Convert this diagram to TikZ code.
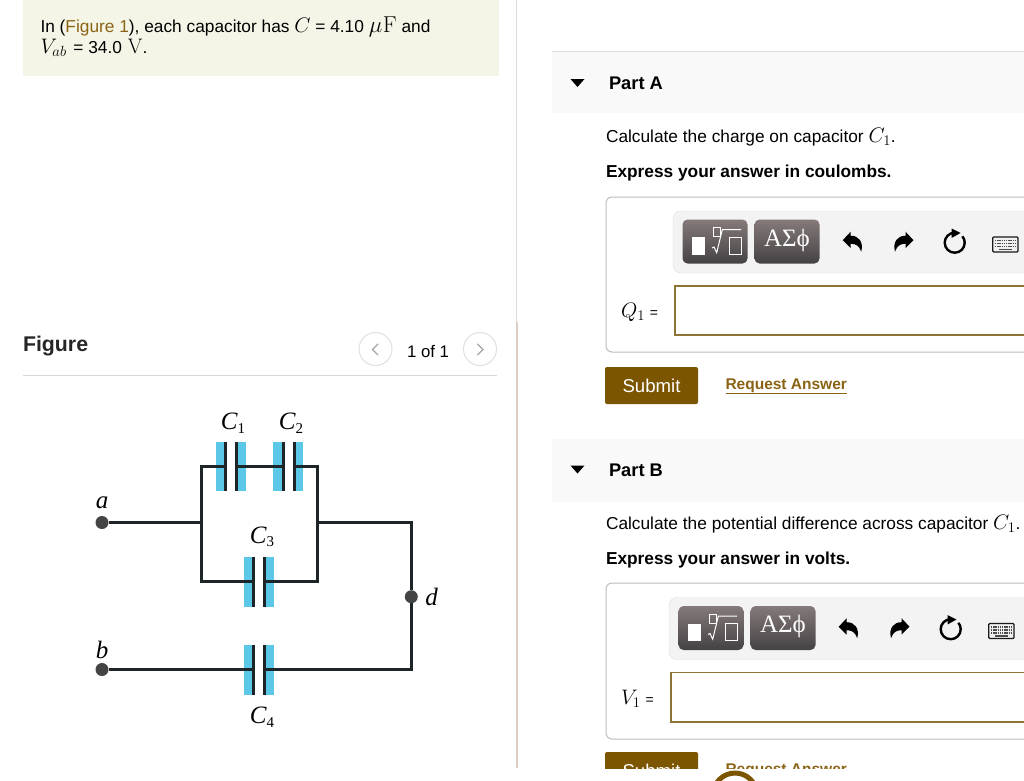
\RequirePackage{fix-cm}
\documentclass[tikz,border=0pt]{standalone}
\usepackage[no-math]{fontspec}
\setmainfont{Liberation Sans}
\newfontfamily\tmsfont{Liberation Serif}
\usetikzlibrary{calc}
\definecolor{panelbg}{HTML}{F5F5E7}
\definecolor{brownb}{HTML}{7C5500}
\definecolor{linkb}{HTML}{8A6414}
\definecolor{capblue}{HTML}{5CC8E8}
\definecolor{wirec}{HTML}{1E2529}
\definecolor{termc}{HTML}{444444}
\definecolor{inputb}{HTML}{8E7536}
\definecolor{toolbg}{HTML}{F3F3F3}
\definecolor{toolb}{HTML}{DEDEDE}
\definecolor{boxb}{HTML}{BDBDBD}
\definecolor{hdrbg}{HTML}{F9F9F9}
\definecolor{gtop}{HTML}{857A7A}
\definecolor{gbot}{HTML}{454243}
\definecolor{divtan}{HTML}{DACFC2}
\newcommand{\tx}[1]{\fontsize{#1}{#1}\selectfont}
\newcommand{\mth}[1]{{\tx{21}$#1$}}
\newcommand{\capname}[1]{{\tmsfont\tx{25}\itshape C}\raisebox{-3.5pt}{\tmsfont\tx{15}#1}}
\tikzset{
  x=1pt,y=-1pt,
  txt/.style={anchor=base west,inner sep=0pt,outer sep=0pt,font=\tx{17.3}},
  boldtxt/.style={txt,font=\tx{17.3}\bfseries},
  parttxt/.style={txt,font=\tx{18.3}\bfseries},
  blueplate/.style={fill=capblue,draw=none,minimum width=9.5pt,minimum height=49pt,inner sep=0pt},
  plate/.style={fill=wirec,draw=none,minimum width=2.6pt,minimum height=49pt,inner sep=0pt},
  wire/.style={draw=wirec,line width=2.6pt,line join=miter},
  term/.style={circle,fill=termc,draw=none,minimum size=13pt,inner sep=0pt},
  lab/.style={inner sep=0pt,font=\tmsfont\tx{25}\itshape},
  pager/.style={circle,draw=black!12,line width=1pt,minimum size=33pt,inner sep=0pt},
  chev/.style={draw=black!35,line width=1.2pt,line cap=round},
  submitbtn/.style={fill=brownb,draw=none,rounded corners=2pt,minimum width=93pt,minimum height=37pt,inner sep=0pt,text=white,font=\tx{18.6}},
}
\newcommand{\toolrow}[3]{%
 \begin{scope}[shift={(#1,#2)}]
  \fill[toolbg,rounded corners=8pt,draw=toolb] (673,211) rectangle (1040,273);
  \shade[top color=gtop,bottom color=gbot,rounded corners=5pt] (682.5,219.5) rectangle (747.5,263.5);
  \shade[top color=gtop,bottom color=gbot,rounded corners=5pt] (754.5,219.5) rectangle (819.5,263.5);
  \fill[white] (692,237) rectangle (705,254.5);
  \draw[white,line width=.9pt] (713.5,227.5) rectangle (720,236.5);
  \draw[white,line width=1pt] (712,248) -- (714,247) -- (716.7,252.7) -- (722.3,229.7) -- (741,229.7);
  \draw[white,line width=.9pt] (729,237) rectangle (741,254);
  \node[text=white,inner sep=0pt,font=\tmsfont\tx{25}] (#3sym) at (787,240) {ΑΣϕ};
  \fill[black,shift={(852.7,241.7)}] (-10,-1.5) -- (-2,-10) -- (-2,-6) .. controls (6,-6) and (11,0) .. (8.5,10) .. controls (6.5,4) and (3,2) .. (-2,2) -- (-2,6.5) -- cycle;
  \fill[black,shift={(903.5,241.7)},xscale=-1] (-10,-1.5) -- (-2,-10) -- (-2,-6) .. controls (6,-6) and (11,0) .. (8.5,10) .. controls (6.5,4) and (3,2) .. (-2,2) -- (-2,6.5) -- cycle;
  \draw[black,line width=2.4pt] (954.7,232.7) arc[start angle=-90,end angle=-400,x radius=10,y radius=10];
  \fill[black] (951.5,228.5) -- (960.5,233) -- (951.5,238) -- cycle;
  \draw[black!90,fill=black!6,line width=1.3pt,rounded corners=1pt] (992.7,237) rectangle (1018,252);
  \foreach \yy in {240.5,243.5,246.5}
    \draw[black!70,line width=1.5pt,dash pattern=on 1.4pt off .8pt] (995,\yy) -- (1016,\yy);
  \draw[black!70,line width=1.5pt] (999,249.5) -- (1012,249.5);
 \end{scope}}
\begin{document}
\begin{tikzpicture}
\useasboundingbox (0,0) rectangle (1024,780);
\clip (0,0) rectangle (1024,780);
\fill[white] (0,0) rectangle (1024,780);
% left panel
\fill[panelbg] (23,0) rectangle (499,76);
\node[txt] (intro1) at (40.5,32.5) {In (\textcolor{linkb}{Figure 1}), each capacitor has \mth{C} = 4.10 {\tx{23}$\mu\mkern0.5mu\mathrm{F}$} and};
\node[txt] (intro2) at (40.5,53.5) {\mth{V_{ab}}\kern2pt{} = 34.0 \kern1pt\mth{\mathrm{V}}.};
\draw[black!14,line width=1.4pt] (516.5,0) -- (516.5,322);
\draw[divtan,line width=2pt] (516.5,322) -- (516.5,768);
\node[txt,font=\tx{21.3}\bfseries,text=black!85] (figlab) at (23,351) {Figure};
\draw[black!15,line width=1pt] (23,375.5) -- (497,375.5);
\node[pager] (prev) at (375.5,349) {};
\node[pager] (next) at (480,349) {};
\draw[chev] (378,344) -- (372.5,349.5) -- (378,355);
\draw[chev] (477.5,344) -- (483,349.5) -- (477.5,355);
\node[txt,font=\tx{16.8}] (pg) at (407,357) {1 of 1};
% circuit
\node[blueplate] (c1a) at (221,466.5) {}; \node[blueplate] (c1b) at (241,466.5) {};
\node[blueplate] (c2a) at (278,466.5) {}; \node[blueplate] (c2b) at (298.5,466.5) {};
\node[blueplate,minimum height=50pt] (c3a) at (249,581.5) {}; \node[blueplate,minimum height=50pt] (c3b) at (269,581.5) {};
\node[blueplate,minimum height=50pt] (c4a) at (249,670) {}; \node[blueplate,minimum height=50pt] (c4b) at (269,670) {};
\node[plate] (p1a) at (225.7,466.5) {}; \node[plate] (p1b) at (236.7,466.5) {};
\node[plate] (p2a) at (283.3,466.5) {}; \node[plate] (p2b) at (294.3,466.5) {};
\node[plate,minimum height=50pt] (p3a) at (253.3,581.5) {}; \node[plate,minimum height=50pt] (p3b) at (264.3,581.5) {};
\node[plate,minimum height=50pt] (p4a) at (253.3,670) {}; \node[plate,minimum height=50pt] (p4b) at (264.3,670) {};
\node[term] (a) at (102,522.5) {};
\node[term] (b) at (102,669.5) {};
\node[term] (d) at (411.3,596.7) {};
\coordinate (jl) at (201.7,522.5);
\coordinate (jr) at (317.3,522.5);
\draw[wire] (a) -- (jl);
\draw[wire] (p1a.center) -| (jl);
\draw[wire] (p1b.center) -- (p2a.center);
\draw[wire] (p2b.center) -| (jr);
\draw[wire] (jl) |- (p3a.center);
\draw[wire] (jr) |- (p3b.center);
\draw[wire] (jr) -| (d);
\draw[wire] (b) -- (p4a.center |- b);
\draw[wire] (p4b.center |- b) -| (d);
\node[inner sep=0pt] (lc1) at (233,423) {\capname{1}};
\node[inner sep=0pt] (lc2) at (291,423) {\capname{2}};
\node[inner sep=0pt] (lc3) at (262,537) {\capname{3}};
\node[inner sep=0pt] (lc4) at (262,717) {\capname{4}};
\node[lab] (la) at (102,503) {a};
\node[lab] (lb) at (102,650) {b};
\node[lab] (ld) at (431.5,596.5) {d};
% Part A
\fill[hdrbg] (552,52) rectangle (1024,112.5);
\draw[black!12,line width=.8pt] (552,51.5) -- (1024,51.5);
\fill[black] (570.5,79) -- (584.5,79) -- (577.5,87) -- cycle;
\node[parttxt] (pa) at (609,89) {Part A};
\node[txt] (qa) at (606,142.5) {Calculate the charge on capacitor \mth{C_1}.};
\node[boldtxt] (ea) at (606,177.5) {Express your answer in coulombs.};
\draw[boxb,line width=1pt,rounded corners=6pt] (1040,197) -- (606,197) -- (606,352) -- (1040,352);
\toolrow{0}{0}{ta}
\node[txt] (q1) at (621,317) {\mth{Q_1} {\tx{14}=}};
\draw[inputb,line width=1.2pt,fill=white] (675,286) rectangle (1040,335);
\node[submitbtn] (sa) at (651.5,385.5) {Submit};
\node[txt,font=\tx{15.5}\bfseries,text=linkb] (ra) at (725.5,389) {\underline{Request Answer}};
% Part B
\fill[hdrbg] (552,439) rectangle (1024,502);
\fill[black] (570.5,465.5) -- (584.5,465.5) -- (577.5,473.5) -- cycle;
\node[parttxt] (pb) at (609,476) {Part B};
\node[txt] (qb) at (606,529.5) {Calculate the potential difference across capacitor \mth{C_1}.};
\node[boldtxt] (eb) at (606,564) {Express your answer in volts.};
\draw[boxb,line width=1pt,rounded corners=6pt] (1040,583) -- (606,583) -- (606,739) -- (1040,739);
\toolrow{-4}{386.5}{tb}
\node[txt] (v1) at (621,704) {\mth{V_1} {\tx{14}=}};
\draw[inputb,line width=1.2pt,fill=white] (671,672.5) rectangle (1040,722);
\begin{scope}
\clip (0,0) rectangle (1024,768.5);
\node[submitbtn] (sb) at (651.5,770.5) {Submit};
\node[txt,font=\tx{15.5}\bfseries,text=linkb] (rb) at (725.5,774) {Request Answer};
\end{scope}
\fill[white] (0,768.5) rectangle (1024,780);
\draw[brownb,line width=5pt] (735,795) circle[radius=22];
\end{tikzpicture}
\end{document}
